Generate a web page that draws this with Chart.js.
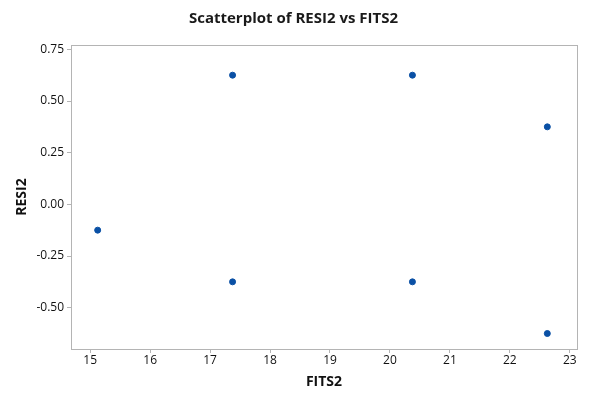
<!DOCTYPE html>
<html>
<head>
<meta charset="utf-8">
<script src="https://cdn.jsdelivr.net/npm/chart.js@4"></script>
<style>
  html, body { margin: 0; padding: 0; background: #fff; }
  #wrap { width: 604px; height: 399px; }
</style>
</head>
<body>
<div id="wrap"><canvas id="scatterChart" width="604" height="399"></canvas></div>
<script>
// Data
const fits2 = [15.125, 17.375, 17.375, 20.375, 20.375, 22.625, 22.625];
const resi2 = [-0.125, 0.625, -0.375, 0.625, -0.375, 0.375, -0.625];
const xTicks = [15, 16, 17, 18, 19, 20, 21, 22, 23];
const yTicks = [-0.5, -0.25, 0, 0.25, 0.5, 0.75];

const fontFamily = "'Open Sans', 'Noto Sans', sans-serif";
const axisGrey = '#b4b4b4';

// Frame around plot area
const frame = {
    id: 'frame',
    afterDraw(chart) {
        const a = chart.chartArea;
        const c = chart.ctx;
        c.save();
        c.strokeStyle = axisGrey;
        c.lineWidth = 1;
        c.strokeRect(Math.round(a.left) + 0.5, Math.round(a.top) + 0.5,
            Math.round(a.right - a.left), Math.round(a.bottom - a.top));
        c.restore();
    }
};

const ctx = document.getElementById('scatterChart').getContext('2d');

let scatterChart = new Chart(ctx, {
    type: 'scatter',
    data: {
        datasets: [{
            label: 'RESI2 vs FITS2',
            data: fits2.map((x, i) => ({ x: x, y: resi2[i] })),
            backgroundColor: '#0a50a5',
            borderColor: '#0a50a5',
            pointRadius: 3,
            pointHoverRadius: 3,
        }],
    },
    options: {
        responsive: false,
        animation: false,
        layout: { padding: { left: 10, right: 27, top: 0, bottom: 5 } },
        plugins: {
            legend: { display: false },
            tooltip: { enabled: false },
            title: {
                display: true,
                text: 'Scatterplot of RESI2 vs FITS2',
                color: '#1a1a1a',
                font: { family: fontFamily, size: 15, weight: 'bold' },
                padding: { top: 10, bottom: 17 },
            },
        },
        scales: {
            x: {
                type: 'linear',
                min: 14.68,
                max: 23.12,
                afterBuildTicks: (s) => { s.ticks = xTicks.map(v => ({ value: v })); },
                afterFit: (s) => { s.height = 45; },
                grid: { drawOnChartArea: false, drawTicks: true, tickLength: 4, color: axisGrey },
                border: { color: axisGrey },
                ticks: {
                    color: '#111',
                    font: { family: fontFamily, size: 12 },
                    padding: 0,
                    maxRotation: 0,
                },
                title: {
                    display: true,
                    text: 'FITS2',
                    color: '#111',
                    font: { family: fontFamily, size: 14, weight: 'bold' },
                    padding: { top: 0 },
                },
            },
            y: {
                type: 'linear',
                min: -0.70,
                max: 0.771,
                afterBuildTicks: (s) => { s.ticks = yTicks.map(v => ({ value: v })); },
                afterFit: (s) => { s.width = 61; },
                grid: { drawOnChartArea: false, drawTicks: true, tickLength: 4, color: axisGrey },
                border: { color: axisGrey },
                ticks: {
                    color: '#111',
                    font: { family: fontFamily, size: 12 },
                    padding: 3,
                    callback: (v) => v.toFixed(2),
                },
                title: {
                    display: true,
                    text: 'RESI2',
                    color: '#111',
                    font: { family: fontFamily, size: 14, weight: 'bold' },
                    padding: { bottom: 4 },
                },
            },
        },
    },
    plugins: [frame],
});
</script>
</body>
</html>
